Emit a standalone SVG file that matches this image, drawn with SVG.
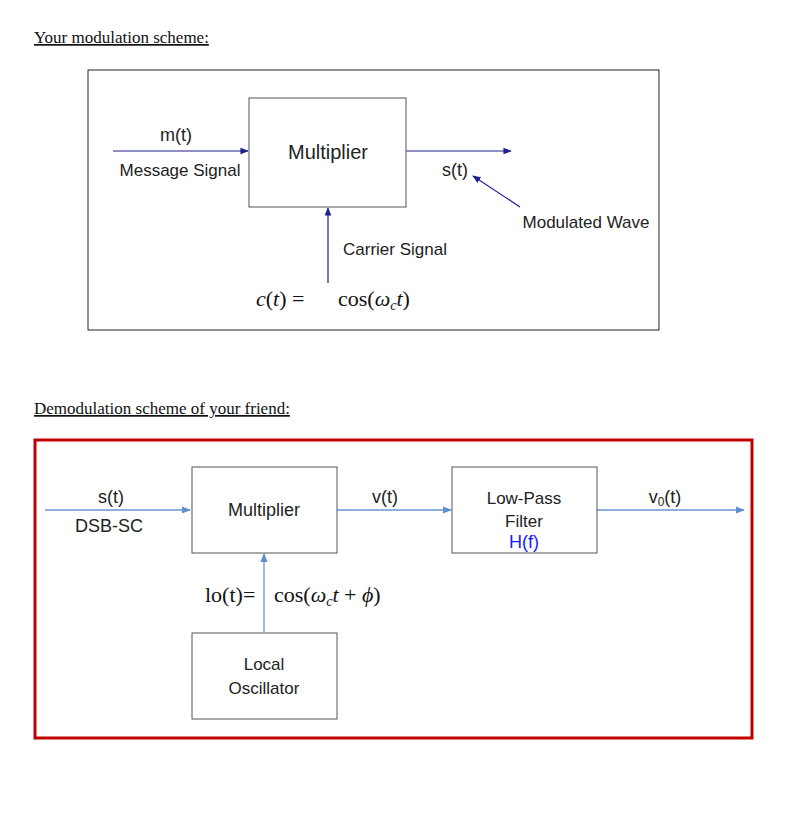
<svg xmlns="http://www.w3.org/2000/svg" width="804" height="831" viewBox="0 0 804 831">
<style>
.t{font-family:"Liberation Sans",Arial,sans-serif;font-size:17px;fill:#222}
.m{font-family:"Liberation Serif","Times New Roman",serif;font-size:22px;fill:#111}
.u{font-family:"Liberation Serif","Times New Roman",serif;font-size:17px;fill:#111;text-decoration:underline}
.b{fill:#fff;stroke:#555;stroke-width:1}
.n{stroke:#1f1f8f;stroke-width:1.2;fill:none}
.l{stroke:#6a96d2;stroke-width:1.3;fill:none}
</style>
<defs>
<marker id="an" viewBox="0 0 10 10" refX="9" refY="5" markerWidth="7" markerHeight="7" orient="auto"><path d="M0,1L10,5L0,9z" fill="#1f1f8f"/></marker>
<marker id="al" viewBox="0 0 10 10" refX="9" refY="5" markerWidth="7" markerHeight="7" orient="auto"><path d="M0,1L10,5L0,9z" fill="#5b8fd0"/></marker>
</defs>
<rect width="804" height="831" fill="#fff"/>
<text class="u" x="34" y="43">Your modulation scheme:</text>
<rect x="88" y="70" width="571" height="260" fill="none" stroke="#222" stroke-width="1"/>
<text class="u" x="34" y="414">Demodulation scheme of your friend:</text>
<rect x="35" y="440" width="717" height="298" fill="none" stroke="#c00000" stroke-width="3"/>
<g id="connectors">
<line class="n" x1="113" y1="151" x2="248" y2="151" marker-end="url(#an)"/>
<line class="n" x1="406" y1="151" x2="511" y2="151" marker-end="url(#an)"/>
<line class="n" x1="520" y1="207" x2="473" y2="176" marker-end="url(#an)"/>
<line class="n" x1="328" y1="283" x2="328" y2="208" marker-end="url(#an)"/>
<line class="l" x1="45" y1="510" x2="190" y2="510" marker-end="url(#al)"/>
<line class="l" x1="337" y1="510" x2="451" y2="510" marker-end="url(#al)"/>
<line class="l" x1="597" y1="510" x2="744" y2="510" marker-end="url(#al)"/>
<line class="l" x1="264" y1="632" x2="264" y2="554" marker-end="url(#al)"/>
</g>
<g id="mult1"><rect class="b" x="249" y="98" width="157" height="109"/><text class="t" x="328" y="159" text-anchor="middle" style="font-size:20px">Multiplier</text></g>
<g id="mult2"><rect class="b" x="192" y="467" width="145" height="86"/><text class="t" x="264" y="516" text-anchor="middle" style="font-size:18px">Multiplier</text></g>
<g id="lpf"><rect class="b" x="452" y="467" width="145" height="86"/><text class="t" x="524" y="504" text-anchor="middle">Low-Pass</text><text class="t" x="524" y="527" text-anchor="middle">Filter</text><text class="t" x="524" y="548" text-anchor="middle" style="fill:#1a1aff;font-size:18px">H(f)</text></g>
<g id="lo"><rect class="b" x="192" y="633" width="145" height="86"/><text class="t" x="264" y="670" text-anchor="middle">Local</text><text class="t" x="264" y="694" text-anchor="middle">Oscillator</text></g>
<g id="labels">
<text class="t" x="176" y="141" text-anchor="middle" style="font-size:18px">m(t)</text>
<text class="t" x="180" y="176" text-anchor="middle">Message Signal</text>
<text class="t" x="455" y="176" text-anchor="middle" style="font-size:18px">s(t)</text>
<text class="t" x="586" y="228" text-anchor="middle">Modulated Wave</text>
<text class="t" x="395" y="255" text-anchor="middle">Carrier Signal</text>
<text class="m" x="256" y="306"><tspan font-style="italic">c</tspan>(<tspan font-style="italic">t</tspan>) =</text>
<text class="m" x="338" y="306">cos(<tspan font-style="italic">ω</tspan><tspan font-style="italic" font-size="14" dy="4">c</tspan><tspan font-style="italic" dy="-4">t</tspan>)</text>
<text class="t" x="111" y="503" text-anchor="middle" style="font-size:18px">s(t)</text>
<text class="t" x="109" y="532" text-anchor="middle" style="font-size:18px">DSB-SC</text>
<text class="t" x="385" y="503" text-anchor="middle" style="font-size:18px">v(t)</text>
<text class="t" x="665" y="503" text-anchor="middle" style="font-size:18px">v<tspan font-size="12" dy="3">0</tspan><tspan dy="-3">(t)</tspan></text>
<text class="m" x="205" y="602">lo(t)=</text>
<text class="m" x="274" y="602">cos(<tspan font-style="italic">ω</tspan><tspan font-style="italic" font-size="14" dy="4">c</tspan><tspan font-style="italic" dy="-4">t</tspan> + <tspan font-style="italic">ϕ</tspan>)</text>
</g>
</svg>
